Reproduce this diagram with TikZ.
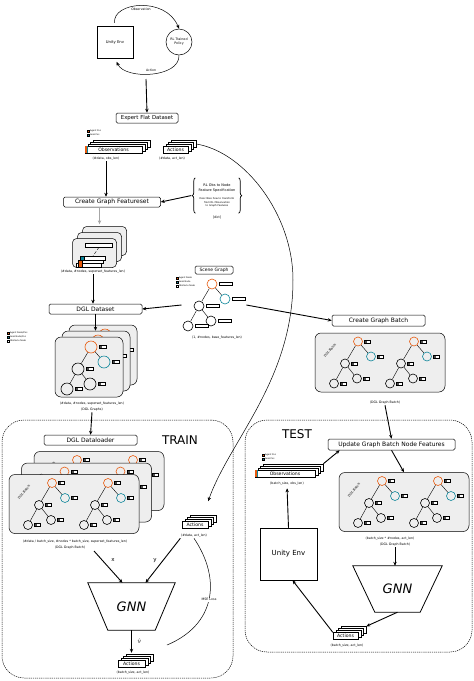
\documentclass[tikz,border=0pt]{standalone}
\usepackage{fontspec}
\setmainfont{DejaVu Sans}
\usepackage{tikz}
\usetikzlibrary{arrows.meta,decorations.pathreplacing}
\usetikzlibrary{shapes.geometric,fit}
\usetikzlibrary{positioning}

\definecolor{agentc}{HTML}{E8590C}
\definecolor{goalc}{HTML}{0C8599}
\definecolor{cardgrey}{HTML}{EEEEEE}

\newcommand\legf{\fontsize{2.2}{2.6}\selectfont}
\newcommand\tinyf{\fontsize{3.2}{3.8}\selectfont}
\newcommand\sheetf{\fontsize{4.6}{5}\selectfont}
\newcommand\boxf{\fontsize{6}{7}\selectfont}
\newcommand\bigf{\fontsize{12}{14}\selectfont}
\newcommand\labf{\fontsize{5.5}{6}\selectfont}

\newcommand\minigraph[5]{%
  \begin{scope}[shift={#2}]
    \node[gnode, draw=agentc, minimum size=#3] (#1a) at (0,0) {};
    \node[gnode, draw=goalc, minimum size=#3] (#1g) at (13,15) {};
    \node[gnode, minimum size=#3] (#1m) at (-13,22) {};
    \node[gnode, minimum size=#3] (#1r) at (-1,37) {};
    \node[gnode, minimum size=#3] (#1l) at (-24,42) {};
    \draw (#1a) -- (#1m) (#1a) -- (#1g) (#1m) -- (#1r) (#1m) -- (#1l);
    \foreach \n in {a,g,m,r,l}
      {\node[feat, minimum width=#4, #5, right=1.5pt of #1\n] (#1\n f) {};}
  \end{scope}}

\newcommand\batchcard[3]{%
  \node[card, minimum width=130pt, minimum height=59pt] (#1) at (#2,#3) {};
  \node[lbl, rotate=50] (#1t) at (#2-50,#3-12) {DGL Batch};
  \minigraph{#1p}{(#2-22,#3-21)}{9pt}{6pt}{featd}
  \minigraph{#1q}{(#2+34,#3-21)}{9pt}{6pt}{featd}}

\newcommand\graphcard[3]{%
  \node[card, minimum width=68pt, minimum height=60pt] (#1) at (#2,#3) {};
  \minigraph{#1p}{(#2+2,#3-20)}{12pt}{7pt}{featd}}

\newcommand\sheets[5]{%
  \foreach \i in {3,2,1}
    {\node[sheet, minimum width=#4] (#1\i) at (#2+2.7*\i,#3-2*\i) {};}
  \node[sheet, minimum width=#4, font=\sheetf] (#1) at (#2,#3) {#5};}

\newcommand\strips[1]{%
  \fill[agentc] ([xshift=.4pt]#1.north west) rectangle ([xshift=1.8pt]#1.south west);
  \fill[goalc] ([xshift=1.8pt]#1.north west) rectangle ([xshift=3.2pt]#1.south west);}

\newcommand\nodelegend[4]{%
  \foreach \col/\txt [count=\k] in {#4}
    {\node[legbox, fill=\col, label={[font=\legf, inner sep=.6pt]right:\txt}] (#1\k) at (#2,#3+4*\k) {};}}

\newcommand\gnnshape[2]{%
  \draw[line width=.8pt] (#1.north west) -- (#1.north east) -- ([xshift=-#2]#1.south east)
    -- ([xshift=#2]#1.south west) -- cycle;}

\begin{document}
\begin{tikzpicture}[x=1pt, y=-1pt,
  box/.style={draw, rounded corners=1.5pt, fill=white, font=\boxf, inner sep=0pt, line width=.5pt},
  lbl/.style={font=\tinyf, inner sep=.5pt},
  arr/.style={-{Stealth[length=4pt, width=3.4pt]}, line width=.9pt},
  card/.style={draw, rounded corners=6pt, fill=cardgrey, line width=.5pt, inner sep=0pt},
  gnode/.style={circle, draw, inner sep=0pt, line width=.6pt},
  feat/.style={draw, fill=white, inner sep=0pt, minimum height=3pt, line width=.35pt},
  featd/.style={path picture={\fill[black!70] (path picture bounding box.south west) rectangle (path picture bounding box.north);}},
  sheet/.style={draw, fill=white, inner sep=0pt, minimum height=7pt, line width=.4pt},
  legbox/.style={draw, line width=.2pt, minimum size=2.2pt, inner sep=0pt},
  frame/.style={draw, dash pattern=on 1.2pt off .9pt, rounded corners=22pt, line width=.5pt, inner sep=0pt},
  gnnbox/.style={inner sep=0pt, font=\fontsize{13}{15}\selectfont\itshape}]

\useasboundingbox (0,0) rectangle (474,681);

\node[draw, minimum width=36pt, minimum height=32pt, inner sep=0pt, font=\fontsize{3.8}{4.5}\selectfont, line width=.5pt] (envtop) at (115,42) {Unity Env};
\node[circle, draw, minimum size=26pt, inner sep=0pt, align=center, font=\fontsize{3.3}{4}\selectfont, line width=.5pt] (policy) at (179,42) {RL Trained\\Policy};
\draw[arr, line width=.5pt, shorten <=3pt] (envtop.north) .. controls (112,2) and (166,-4) .. (policy.north) node[lbl, pos=.5, below=1pt] {Observation};
\draw[arr, line width=.5pt, shorten >=4pt] (policy.south) .. controls (180,78) and (125,80) .. (envtop.south) node[lbl, pos=.5, above=1pt] {Action};
\coordinate (loopout) at (146,79);
\node[box, minimum width=62pt, minimum height=10pt, font=\fontsize{5.4}{6}\selectfont] (expert) at (147,118) {Expert Flat Dataset};
\draw[arr] (loopout) -- (expert.north);

\nodelegend{obsleg}{88}{127}{agentc/Agent Pos, goalc/Goal Pos}
\sheets{obstop}{113.5}{149.5}{57pt}{Observations}
\strips{obstop}
\sheets{acttop}{175.5}{150}{25pt}{Actions}
\node[lbl] (obstoplbl) at (106,159) {(\#data, obs\_len)};
\node[lbl] (acttoplbl) at (172,159) {(\#data, act\_len)};

\node[box, minimum width=97pt, minimum height=10pt] (featset) at (112,202) {Create Graph Featureset};
\draw[arr] (obstoplbl.south) -- (obstoplbl.south |- featset.north);

\node[align=center, font=\fontsize{3.5}{4.4}\selectfont, inner sep=0pt] (spectitle) at (217,188) {RL Obs to Node\\Feature Specification};
\node[align=center, font=\fontsize{2.5}{3.3}\selectfont, inner sep=0pt] (specdesc) at (217,202.5) {Describes how to transform\\from RL Observation\\to Graph Features};
\node[fit=(spectitle)(specdesc), minimum width=41pt, minimum height=35pt, inner sep=0pt] (spec) {};
\draw[decorate, decoration={brace, amplitude=3pt}, line width=.7pt] ([xshift=-1pt]spec.south west) -- ([xshift=-1pt]spec.north west);
\draw[decorate, decoration={brace, amplitude=3pt}, line width=.7pt] ([xshift=1pt]spec.north east) -- ([xshift=1pt]spec.south east);
\node[lbl] (specdict) at (217,217) {[dict]};
\draw[arr] ([xshift=-5pt]spec.west) -- (featset.east);

\foreach \i in {2,1}
  {\node[card, rounded corners=4pt, minimum width=44pt, minimum height=29pt] (fs\i) at (94.5+5*\i,253-6*\i) {};}
\node[card, rounded corners=4pt, minimum width=44pt, minimum height=29pt] (fs) at (94.5,253) {};
\node[sheet, minimum width=27pt, minimum height=4pt] (fsrow) at (99,245) {};
\node[sheet, minimum width=25pt, minimum height=3.5pt] (fsb1) at (93,258) {};
\node[sheet, minimum width=25pt, minimum height=3.5pt] (fsb2) at (91,261.5) {};
\node[sheet, minimum width=25pt, minimum height=3.5pt] (fsb3) at (89,265) {};
\node[draw, fill=goalc, minimum size=3.5pt, inner sep=0pt, anchor=west, line width=.3pt] (fsgoal) at (fsb1.west) {};
\node[draw, fill=agentc, minimum width=3.5pt, minimum height=7pt, inner sep=0pt, anchor=north west, line width=.3pt] (fsagent) at (fsb2.north west) {};
\draw[densely dashed, line width=.4pt] (fsrow.south) -- (fsb1.north);
\draw[arr, gray!70, line width=.5pt, shorten >=2pt] (featset.south -| fs1.north) -- (fs1.north |- fs2.north);
\node[lbl] (fslbl) at (93,272) {(\#data, \#nodes, superset\_features\_len)};
\node[box, minimum width=93pt, minimum height=10pt] (dgldata) at (95.5,309) {DGL Dataset};
\draw[arr] (fslbl.south) -- (fslbl.south |- dgldata.north);

\node[box, minimum width=38pt, minimum height=8pt, font=\fontsize{4.5}{5}\selectfont] (scenettl) at (214,270) {Scene Graph};
\nodelegend{sgleg}{177}{274}{agentc/Agent Node, goalc/Goal Node, white/Obstacle Node}
\minigraph{sg}{(212,284)}{10pt}{13pt}{}
\node[fit=(sga)(sgl)(sggf)(sgr), inner sep=1pt] (scene) {};
\node[lbl] (scenelbl) at (217,338) {(1, \#nodes, base\_features\_len)};
\draw[arr] (scene.west) -- (dgldata.east);

\nodelegend{dsleg}{8}{329}{agentc/{Agent Node/Pos}, goalc/{Goal Node/Pos}, white/Obstacle Node}
\foreach \i in {2,1}
  {\graphcard{ds\i}{89+7*\i}{367-6*\i}}
\graphcard{ds}{89}{367}
\draw[arr] (dgldata.south) -- (dgldata.south |- ds1.north);
\node[lbl] (dslbl) at (92,404) {(\#data, \#nodes, superset\_features\_len)};
\node[lbl] (dsgraphs) at (92,410) {(DGL Graphs)};

\node[box, minimum width=93pt, minimum height=11pt] (cgbatch) at (378.5,320.5) {Create Graph Batch};
\draw[arr] (scene.east) -- (cgbatch.west);
\batchcard{gb}{380}{362.5}
\node[lbl] (gblbl) at (385,403) {(DGL Graph Batch)};

\node[frame, minimum width=231pt, minimum height=258pt] (train) at (117.5,549) {};
\node[font=\bigf] (traintxt) at (180,440) {TRAIN};
\node[box, minimum width=93pt, minimum height=10pt] (dgload) at (90.5,440) {DGL Dataloader};
\draw[arr] (dsgraphs.south) -- (dgload.north);
\foreach \i in {2,1}
  {\batchcard{tr\i}{74+12.5*\i}{504-11.5*\i}}
\batchcard{tr}{74}{504}
\node[lbl] (trlbl) at (75,542) {(\#data / batch\_size, \#nodes * batch\_size, superset\_features\_len)};
\node[lbl] (trgraphs) at (70,548) {(DGL Graph Batch)};

\sheets{acttr}{195}{525}{26pt}{Actions}
\node[lbl] (acttrlbl) at (194,536) {(\#data, act\_len)};
\draw[arr, line width=.5pt, shorten >=15pt] (acttop3.east) .. controls (245,152) and (293,215) .. (293,280)
  .. controls (293,380) and (230,440) .. (acttr3.north);

\node[gnnbox, minimum width=87pt, minimum height=47pt] (gnntr) at (131.5,606.5) {GNN};
\gnnshape{gnntr}{20pt}
\coordinate (xsrc) at (94,551);
\draw[arr] (xsrc) -- ([xshift=-9pt]gnntr.north);
\node[font=\labf] (xlab) at (113,560) {x};
\draw[arr] (acttrlbl.south west) -- ([xshift=14pt]gnntr.north);
\node[font=\labf] (ylab) at (155,561) {y};
\sheets{actbot}{131.5}{663.5}{27pt}{Actions}
\node[lbl] (actbotlbl) at (133,673) {(batch\_size, act\_len)};
\draw[arr, shorten >=1pt] (gnntr.south) -- (gnntr.south |- actbot3.north) node[pos=.45, right=2pt, font=\labf] {$\hat{y}$};
\coordinate (yhatpt) at (167,645);
\draw[line width=.5pt] (acttrlbl.south) .. controls (222,580) and (215,625) .. (yhatpt) node[lbl, pos=.5, fill=white] {MSE Loss};

\node[frame, minimum width=227pt, minimum height=232pt] (test) at (358.5,536) {};
\node[font=\bigf] (testtxt) at (297,434) {TEST};
\node[box, minimum width=127pt, minimum height=11pt] (update) at (391.5,444.5) {Update Graph Batch Node Features};
\draw[arr] (gblbl.south) -- (update.north);
\nodelegend{teleg}{263}{451}{agentc/Agent Pos, goalc/Goal Pos}
\sheets{obste}{285}{473.5}{60pt}{Observations}
\strips{obste}
\node[lbl] (obstelbl) at (287,484) {(batch\_size, obs\_len)};
\draw[arr] (obste3.north east) -- ([xshift=12pt]update.south west);
\node[draw, minimum width=57pt, minimum height=52pt, font=\fontsize{7}{8}\selectfont, line width=.5pt] (envte) at (288.5,554) {Unity Env};
\draw[arr, shorten >=2pt] (envte.north) -- (obstelbl.south);
\batchcard{te}{404}{502}
\draw[arr] (update.south) -- (te.north);
\node[lbl] (telbl) at (390,539) {(batch\_size * \#nodes, act\_len)};
\node[lbl] (tegraphs) at (395,545) {(DGL Graph Batch)};
\node[gnnbox, minimum width=89pt, minimum height=46pt] (gnnte) at (397.5,589) {GNN};
\gnnshape{gnnte}{22pt}
\draw[arr] (tegraphs.south) -- (tegraphs.south |- gnnte.north);
\sheets{actte}{345.5}{636}{25pt}{Actions}
\node[lbl] (acttelbl) at (347,646) {(batch\_size, act\_len)};
\draw[arr] (gnnte.south) -- (actte3.north east);
\draw[arr] (actte.north west) -- ([xshift=4pt]envte.south);
\end{tikzpicture}
\end{document}
